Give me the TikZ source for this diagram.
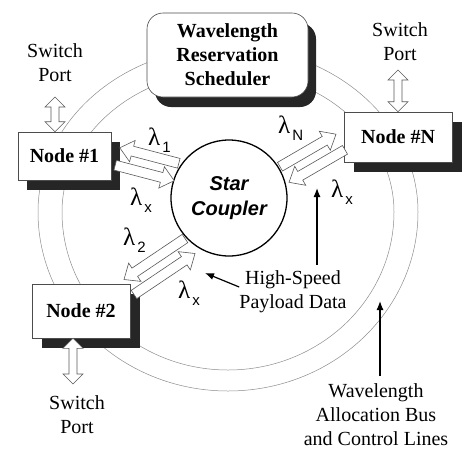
\documentclass[tikz,border=0pt]{standalone}
\usepackage{fontspec}
\setmainfont{Liberation Serif}
\setsansfont{Liberation Sans}
\usetikzlibrary{shapes.geometric, arrows.meta, calc, shadows}

% hollow arrow: tail, tip
\newcommand{\fatarrow}[2]{%
  \coordinate (neck) at ($(#2)!13pt!(#1)$);
  \draw [hollow] ($(#1)!5pt!90:(#2)$) -- ($(neck)!5pt!90:(#2)$)
    -- ($(neck)!11pt!90:(#2)$) -- (#2) -- ($(neck)!11pt!-90:(#2)$)
    -- ($(neck)!5pt!-90:(#2)$) -- ($(#1)!5pt!-90:(#2)$) -- cycle;}
% hollow double arrow: end, end
\newcommand{\portarrow}[2]{%
  \coordinate (neckA) at ($(#1)!10pt!(#2)$);
  \coordinate (neckB) at ($(#2)!10pt!(#1)$);
  \draw [hollow] (#1) -- ($(neckA)!10pt!90:(#2)$) -- ($(neckA)!4pt!90:(#2)$)
    -- ($(neckB)!4pt!90:(#2)$) -- ($(neckB)!10pt!90:(#2)$) -- (#2)
    -- ($(neckB)!10pt!-90:(#2)$) -- ($(neckB)!4pt!-90:(#2)$)
    -- ($(neckA)!4pt!-90:(#2)$) -- ($(neckA)!10pt!-90:(#2)$) -- cycle;}
\newcommand{\lam}[1]{{\rmfamily\fontsize{25}{25}\selectfont λ}\kern2pt\raisebox{-7pt}{\sffamily\fontsize{15}{15}\selectfont #1}}

\begin{document}
\begin{tikzpicture}
    [
		x=1pt, y=-1pt,
		>={Latex[length=9pt, width=7pt]},
		font=\rmfamily\fontsize{20}{24}\selectfont,
		ring/.style={draw=black!45, line width=0.5pt},
		box/.style={
			draw=black!70, line width=0.6pt, fill=white, inner sep=0pt,
			align=center, font=\rmfamily\fontsize{20}{24}\selectfont\bfseries
		},
		shade/.style={drop shadow={shadow xshift=#1, shadow yshift=-10pt, fill=black!85, opacity=1}},
		hollow/.style={draw=black!65, line width=0.6pt, fill=white, line join=miter},
		textblock/.style={align=center, inner sep=0pt},
		lamb/.style={anchor=base west, inner sep=0pt},
		note/.style={->, line width=1.2pt}
	]

\useasboundingbox (0,0) rectangle (474,467);

% Allocation bus and control lines
\draw [ring] (418,212) arc [start angle=0, end angle=180, x radius=190, y radius=179]
	arc [start angle=180, end angle=360, x radius=190, y radius=165];
\draw [ring] (394,212) arc [start angle=0, end angle=180, x radius=166, y radius=158]
	arc [start angle=180, end angle=360, x radius=166, y radius=141];

% Nodes
\node (sched) [box, rounded corners=16pt, minimum width=161pt, minimum height=84pt, shade=8pt]
	at (227.5,55) {Wavelength\\Reservation\\Scheduler};
\node (one) [box, minimum width=93pt, minimum height=48pt, shade=9pt] at (64.5,156) {Node \#1};
\node (last) [box, minimum width=108pt, minimum height=50pt, shade=10pt] at (398,137) {Node \#N};
\node (two) [box, minimum width=98pt, minimum height=54pt, shade=10pt] at (81,311) {Node \#2};
\node (star) [circle, draw, line width=1.3pt, minimum size=116pt, fill=white, inner sep=0pt,
	align=center, font=\sffamily\bfseries\itshape\fontsize{20}{25}\selectfont]
	at (229,198) {Star\\Coupler};

% Wavelength channels
\coordinate (oneA) at (178.8,163.3);
\coordinate (oneB) at (119.8,147.8);
\coordinate (oneC) at (115.2,165.2);
\coordinate (oneD) at (174.2,180.7);
\fatarrow{oneA}{oneB}
\fatarrow{oneC}{oneD}

\coordinate (lastA) at (280,166.7);
\coordinate (lastB) at (336,134.2);
\coordinate (lastC) at (345,149.8);
\coordinate (lastD) at (289,182.3);
\fatarrow{lastA}{lastB}
\fatarrow{lastC}{lastD}

\coordinate (twoA) at (185,238.5);
\coordinate (twoB) at (124,279.5);
\coordinate (twoC) at (134,294.5);
\coordinate (twoD) at (195,253.5);
\fatarrow{twoA}{twoB}
\fatarrow{twoC}{twoD}

% Switch ports
\coordinate (portOne) at (55,97);
\coordinate (portLast) at (398,70);
\coordinate (portTwo) at (73,384);
\portarrow{portOne}{portOne |- one.north}
\portarrow{portLast}{portLast |- last.north}
\portarrow{portTwo |- two.south}{portTwo}

\node (swOne) [textblock] at (55,63) {Switch\\Port};
\node (swLast) [textblock] at (400,42) {Switch\\Port};
\node (swTwo) [textblock] at (77,415) {Switch\\Port};

% Wavelength labels
\node (lamOne) [lamb] at (148,145) {\lam{1}};
\node (lamOneX) [lamb] at (130,205) {\lam{x}};
\node (lamLast) [lamb] at (278,133) {\lam{N}};
\node (lamLastX) [lamb] at (331,197) {\lam{x}};
\node (lamTwo) [lamb] at (123,245) {\lam{2}};
\node (lamTwoX) [lamb] at (178,298) {\lam{x}};

% Annotations
\node (hs) [textblock] at (293,292) {High-Speed\\Payload Data};
\node (wa) [textblock] at (376,415) {Wavelength\\Allocation Bus\\and Control Lines};

\coordinate (hsUp) at (317,188);
\coordinate (hsLeft) at (205,273);
\coordinate (waUp) at (380,301);
\draw [note] ([yshift=6pt]hs.north -| hsUp) -- (hsUp);
\draw [note] ([yshift=5pt]hs.west) -- (hsLeft);
\draw [note] ([yshift=8pt]wa.north -| waUp) -- (waUp);

\end{tikzpicture}
\end{document}
